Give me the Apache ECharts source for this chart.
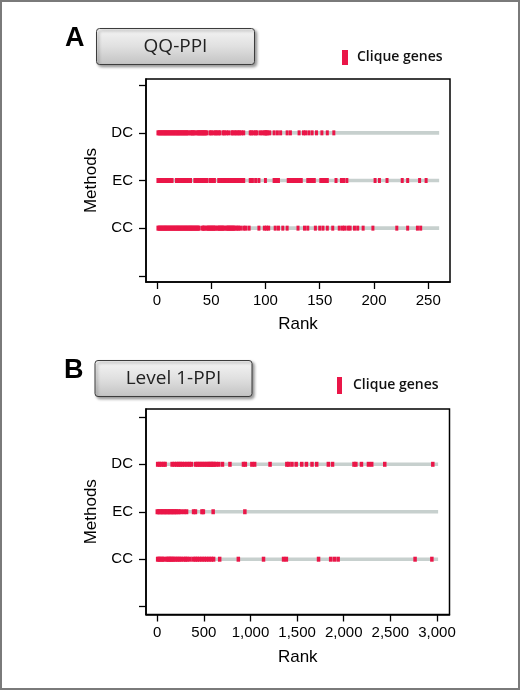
<!DOCTYPE html>
<html>
<head>
<meta charset="utf-8">
<script src="https://cdn.jsdelivr.net/npm/echarts@6.0.0/dist/echarts.min.js"></script>
<style>
html,body{margin:0;padding:0;background:#fff;}
#chart{width:520px;height:690px;}
</style>
</head>
<body>
<div id="chart"></div>
<script>
// ---------- data ----------
const methodLabels = ['CC', 'EC', 'DC'];      // y positions 1,2,3
const methodTicks = [0, 1, 2, 3, 4];

// Panel A: QQ-PPI
const rankMaxA = 260;
const xTicksA = [0, 50, 100, 150, 200, 250];
const dcA = [1,2,3,4,5,6,7,8,9,10,11,12,13,14,15,16,17,18,19,20,21,22,23,24,25,26,27,28,29,
  31,32,33,34,35,37,38,39,40,41,42,43,44,45,46,49,50,52,54,55,57,58,61,62,64,66,
  69,70,72,73,75,76,78,80,86,87,89,91,92,95,97,99,100,101,102,104,108,111,114,
  120,123,131,135,137,140,143,147,152,157,163];
const ecA = [1,2,4,5,6,8,9,10,11,12,14,18,19,20,21,22,24,25,26,27,28,30,31,
  35,36,37,38,40,41,42,43,45,46,49,51,53,57,58,59,60,61,63,64,65,66,67,69,70,72,73,74,76,77,78,80,
  86,88,91,94,100,108,110,112,121,123,125,127,129,131,133,139,141,143,145,
  151,153,155,157,165,170,172,175,201,205,212,226,231,242,248];
const ccA = [1,2,3,4,5,6,7,8,9,10,11,12,13,14,15,16,17,18,19,20,21,22,23,24,25,26,27,28,29,30,
  31,32,33,34,35,36,37,38,39,42,43,44,46,47,48,49,50,51,52,53,54,56,57,58,59,60,61,62,
  64,65,66,67,68,69,70,71,72,74,75,77,80,82,85,94,99,101,103,109,112,116,120,130,136,139,
  146,150,153,157,162,168,171,173,176,178,182,185,190,199,221,231,240,243];

// Panel B: Level 1-PPI
const rankMaxB = 3012;
const xTicksB = [0, 500, 1000, 1500, 2000, 2500, 3000];
const dcB = [5,25,45,70,85,160,185,210,230,250,270,295,320,345,365,410,430,450,470,490,510,
  530,550,565,580,595,610,630,660,700,780,925,945,1015,1045,1210,1390,1410,1445,1490,
  1550,1600,1660,1710,1835,1880,2110,2130,2190,2265,2300,2440,2955];
const ecB = [1,15,30,45,60,75,90,105,120,135,150,165,180,195,210,230,250,285,315,390,410,
  480,495,600,940];
const ccB = [5,20,35,55,70,100,115,130,145,160,175,195,215,235,255,280,305,320,350,385,410,
  430,455,480,505,530,555,580,605,670,870,1140,1355,1385,1730,1860,1900,1940,2765,2945];

// ---------- styles ----------
const RED = '#ea1648';
const GRAY = '#c7d0ce';
const AX_FONT = "'Liberation Sans', Arial, sans-serif";
const BOX_FONT = "'Open Sans', 'Liberation Sans', sans-serif";

function marks(ranks, y) { return ranks.map(r => [r, y]); }
function baseLines(gridIdx, rankMax) {
  return [1, 2, 3].map(y => ({
    type: 'line', xAxisIndex: gridIdx, yAxisIndex: gridIdx, silent: true,
    symbol: 'none', z: 1, data: [[1, y], [rankMax, y]],
    lineStyle: { color: GRAY, width: 3.6, cap: 'butt' }
  }));
}
function xAxisCfg(gridIdx, min, max, ticks, gap, fmt) {
  return {
    type: 'value', gridIndex: gridIdx, min: min, max: max,
    splitLine: { show: false },
    axisLine: { show: true, onZero: false, lineStyle: { color: '#000', width: 1.5 } },
    axisTick: { show: true, customValues: ticks, length: 7, lineStyle: { color: '#000', width: 1.3 } },
    axisLabel: { customValues: ticks, color: '#000', fontSize: 15, fontFamily: AX_FONT, margin: 11,
      formatter: fmt },
    name: 'Rank', nameLocation: 'middle', nameGap: 34,
    nameTextStyle: { color: '#000', fontSize: 17, fontFamily: AX_FONT }
  };
}
function yAxisCfg(gridIdx, min, max) {
  return {
    type: 'value', gridIndex: gridIdx, min: min, max: max,
    splitLine: { show: false },
    axisLine: { show: true, onZero: false, lineStyle: { color: '#000', width: 1.5 } },
    axisTick: { show: true, customValues: methodTicks, length: 7, lineStyle: { color: '#000', width: 1.3 } },
    axisLabel: { customValues: [1, 2, 3], color: '#000', fontSize: 15, fontFamily: AX_FONT, margin: 13,
      formatter: v => methodLabels[Math.round(v) - 1] || '' },
    name: 'Methods', nameLocation: 'middle', nameGap: 46,
    nameTextStyle: { color: '#000', fontSize: 17, fontFamily: AX_FONT }
  };
}
function titleBox(x, y, w, h, label) {
  return [
    { type: 'rect', shape: { x: x, y: y, width: w, height: h, r: 3 },
      style: { fill: new echarts.graphic.LinearGradient(0, 0, 0, 1, [
          { offset: 0, color: '#f5f5f5' }, { offset: 0.5, color: '#e0e0e0' }, { offset: 1, color: '#c2c2c2' }]),
        stroke: '#3c3c3c', lineWidth: 1,
        shadowBlur: 3, shadowOffsetX: 2, shadowOffsetY: 2, shadowColor: 'rgba(0,0,0,0.4)' } },
    { type: 'text', x: x + w / 2, y: y + h / 2,
      style: { text: label, fill: '#222', font: "19px " + BOX_FONT, align: 'center', verticalAlign: 'middle' } }
  ];
}

const chart = echarts.init(document.getElementById('chart'), null, { renderer: 'canvas' });
chart.setOption({
  backgroundColor: '#fff',
  animation: false,
  grid: [
    { left: 146, top: 79, width: 304, height: 203, show: true, borderColor: '#000', borderWidth: 1.5 },
    { left: 146, top: 409, width: 303.5, height: 205.5, show: true, borderColor: '#000', borderWidth: 1.5 }
  ],
  xAxis: [
    xAxisCfg(0, -10, 270, xTicksA, 34, v => String(v)),
    xAxisCfg(1, -120, 3134, xTicksB, 31, v => v.toLocaleString('en-US'))
  ],
  yAxis: [
    yAxisCfg(0, -0.13, 4.13),
    yAxisCfg(1, -0.165, 4.165)
  ],
  legend: [
    { data: ['Clique genes'], left: 337, top: 45, icon: 'rect', itemWidth: 6, itemHeight: 15,
      selectedMode: false, itemGap: 0,
      textStyle: { color: '#111', fontSize: 14, fontWeight: 600, fontFamily: BOX_FONT, padding: [0, 0, 3, 4] } },
    { data: ['Clique genes'], left: 332, top: 372, icon: 'rect', itemWidth: 5, itemHeight: 17,
      selectedMode: false, itemGap: 0,
      textStyle: { color: '#111', fontSize: 14, fontWeight: 600, fontFamily: BOX_FONT, padding: [0, 0, 0, 6] } }
  ],
  series: [
    ...baseLines(0, rankMaxA),
    { type: 'scatter', name: 'Clique genes', xAxisIndex: 0, yAxisIndex: 0, z: 3,
      symbol: 'rect', symbolSize: [3, 5], itemStyle: { color: RED, opacity: 1 },
      data: [...marks(dcA, 3), ...marks(ecA, 2), ...marks(ccA, 1)] },
    ...baseLines(1, rankMaxB),
    { type: 'scatter', name: 'Clique genes', xAxisIndex: 1, yAxisIndex: 1, z: 3,
      symbol: 'rect', symbolSize: [3.5, 5], itemStyle: { color: RED, opacity: 1 },
      data: [...marks(dcB, 3), ...marks(ecB, 2), ...marks(ccB, 1)] }
  ],
  graphic: [
    { type: 'rect', shape: { x: 1, y: 1, width: 518, height: 688 }, silent: true,
      style: { fill: 'none', stroke: '#7a7a7a', lineWidth: 2 } },
    { type: 'text', x: 65, y: 39, style: { text: 'A', fill: '#000', font: "bold 27px " + AX_FONT, verticalAlign: 'middle' } },
    ...titleBox(96.5, 28.5, 158, 36, 'QQ-PPI'),
    { type: 'text', x: 64, y: 371, style: { text: 'B', fill: '#000', font: "bold 27px " + AX_FONT, verticalAlign: 'middle' } },
    ...titleBox(95, 360.5, 157, 36, 'Level 1-PPI')
  ]
});
</script>
</body>
</html>
